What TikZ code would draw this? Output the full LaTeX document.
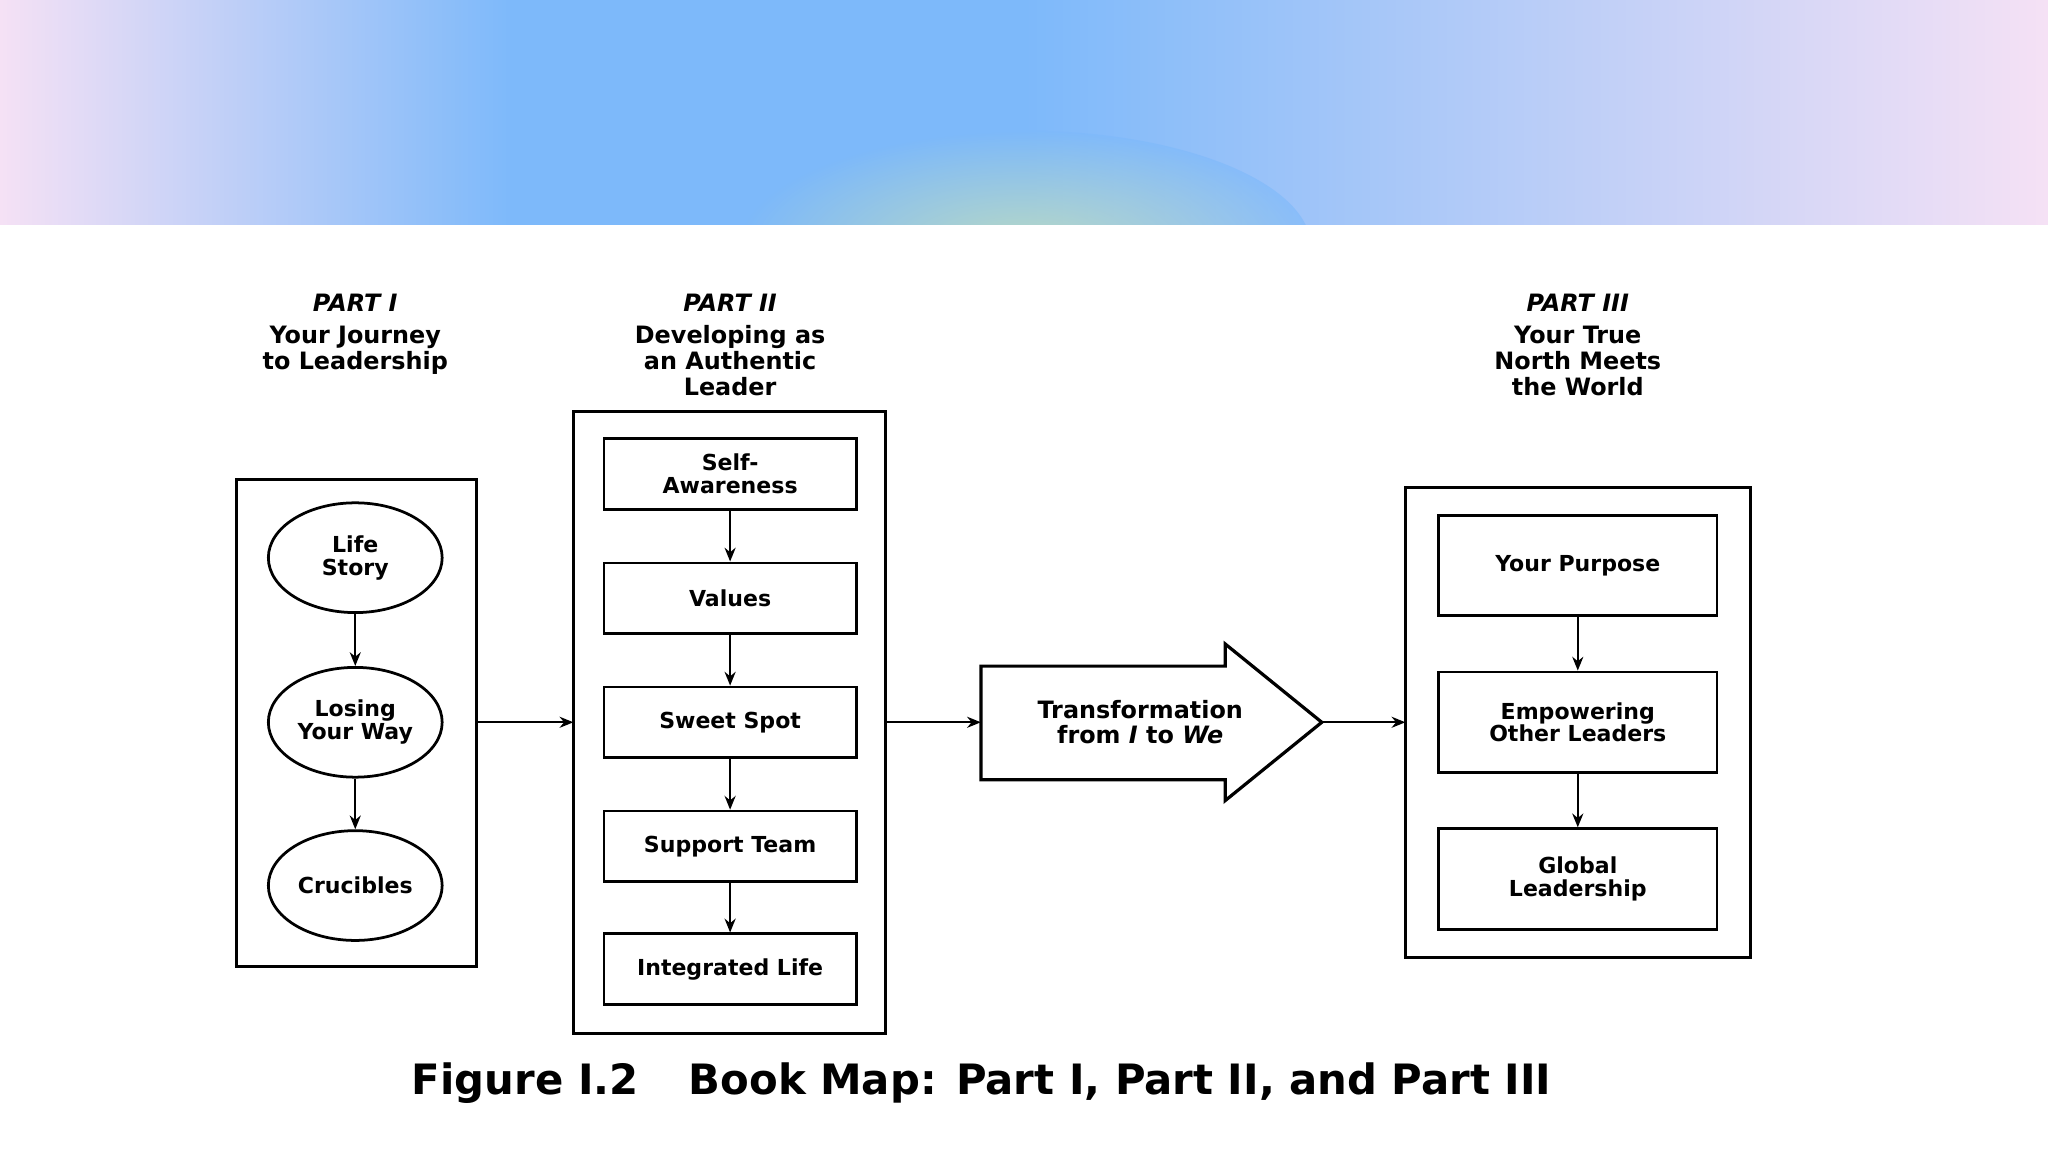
\documentclass[tikz,border=0pt]{standalone}
\usepackage{fontspec}
\setmainfont{DejaVu Sans}
\usetikzlibrary{arrows.meta,shapes.geometric}
\definecolor{sky}{RGB}{125,185,250}
\definecolor{pinkl}{RGB}{245,225,245}
\begin{document}
\begin{tikzpicture}[x=0.01cm,y=-0.01cm,
  hd/.style={font=\fontsize{5.2pt}{5.7pt}\selectfont\bfseries,align=center,anchor=north},
  bx/.style={draw,line width=0.6pt},
  inbox/.style={draw,line width=0.6pt,minimum width=1.93cm,minimum height=0.54cm,inner sep=1pt,align=center,font=\fontsize{4.8pt}{5pt}\selectfont\bfseries},
  inbox3/.style={inbox,minimum width=2.13cm,minimum height=0.77cm},
  circ/.style={draw,line width=0.6pt,ellipse,minimum width=1.33cm,minimum height=0.84cm,inner sep=0pt,align=center,font=\fontsize{4.8pt}{5pt}\selectfont\bfseries},
  ar/.style={-{Stealth[length=3pt,width=2.4pt]},line width=0.5pt}]
\useasboundingbox (0,0) rectangle (1568,882);
\fill[white] (0,0) rectangle (1568,882);
\shade[left color=pinkl,right color=sky,middle color=sky] (0,0) rectangle (784,172);
\shade[left color=sky,right color=pinkl] (784,0) rectangle (1568,172);
\begin{scope}
\clip (0,0) rectangle (1568,172);
\shade[inner color=sky!40!yellow!60!white,outer color=sky,opacity=0.6] (784,190) ellipse (220 and 90);
\end{scope}
% headers
\node[hd] (h1) at (272,213) {\textit{PART I}\\[1.2pt]Your Journey\\to Leadership};
\node[hd] (h2) at (559,213) {\textit{PART II}\\[1.2pt]Developing as\\an Authentic\\Leader};
\node[hd] (h3) at (1208,213) {\textit{PART III}\\[1.2pt]Your True\\North Meets\\the World};
% part I
\draw[bx] (181,367) rectangle (365,740);
\coordinate (b1r) at (365,553);
\node[circ] (c1) at (272,427) {Life\\Story};
\node[circ] (c2) at (272,553) {Losing\\Your Way};
\node[circ] (c3) at (272,678) {Crucibles};
\draw[ar] (c1) -- (c2); \draw[ar] (c2) -- (c3);
% part II
\draw[bx] (439,315) rectangle (678,791);
\coordinate (b2l) at (439,553); \coordinate (b2r) at (678,553);
\node[inbox] (s1) at (559,363) {Self-\\Awareness};
\node[inbox] (s2) at (559,458) {Values};
\node[inbox] (s3) at (559,553) {Sweet Spot};
\node[inbox] (s4) at (559,648) {Support Team};
\node[inbox] (s5) at (559,742) {Integrated Life};
\draw[ar] (s1)--(s2); \draw[ar] (s2)--(s3); \draw[ar] (s3)--(s4); \draw[ar] (s4)--(s5);
% big arrow
\draw[line width=0.7pt,fill=white] (751,510) -- (938,510) -- (938,493) -- (1012,553) -- (938,613) -- (938,597) -- (751,597) -- cycle;
\node[font=\fontsize{5.2pt}{5.4pt}\selectfont\bfseries,align=center] (tr) at (873,553) {Transformation\\from \textit{I} to \textit{We}};
\coordinate (al) at (751,553); \coordinate (at) at (1012,553);
% part III
\draw[bx] (1076,373) rectangle (1340,733);
\coordinate (b3l) at (1076,553);
\node[inbox3] (t1) at (1208,433) {Your Purpose};
\node[inbox3] (t2) at (1208,553) {Empowering\\Other Leaders};
\node[inbox3] (t3) at (1208,673) {Global\\Leadership};
\draw[ar] (t1)--(t2); \draw[ar] (t2)--(t3);
\draw[ar] (b1r) -- (b2l);
\draw[ar] (b2r) -- (al);
\draw[ar] (at) -- (b3l);
% caption
\node[font=\fontsize{9.1pt}{9.5pt}\selectfont\bfseries,anchor=west] (cap) at (303,829) {Figure I.2\hspace{1.2em}Book Map: Part I, Part II, and Part III};
\end{tikzpicture}
\end{document}
